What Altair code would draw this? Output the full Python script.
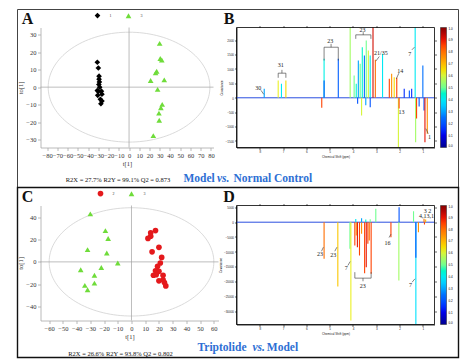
import altair as alt
import numpy as np
import pandas as pd

SERIF = "Liberation Serif"
SANS = "Liberation Sans"
GREEN = "#6fdc3a"
RED = "#e4191c"
TITLE_BLUE = "#2e6fd4"

# ---------------- Panel A (Model vs Normal Control, OPLS-DA scores) ----------------
a_g1_x = [-31, -30, -29.3, -29.3, -29, -28.7, -31, -27, -26.5, -30.6, -28, -26.5, -27.5, -29.5, -30]
a_g1_y = [14.3, 11, 6.3, 4.6, 3, 0, -1.9, -2.3, -4, -4.7, -7, -8, -9.5, 1.5, -2.5]
a_g3_x = [29.9, 30.5, 32, 27, 25.9, 21.1, 34.4, 27.9, 32.4, 31.1, 29.2, 29.5, 23.7]
a_g3_y = [25.1, 16.4, 15.6, 9.1, 8.2, 3.8, 4.2, -1.3, -9.9, -11.8, -14.9, -19, -27.8]
a_ticks_x = list(range(-80, 81, 10))
a_ticks_y = [-30, -20, -10, 0, 10, 20, 30]
A_RX, A_RY = 79.0, 31.5
a_stats = "R2X = 27.7% R2Y = 99.1% Q2 = 0.873"

# ---------------- Panel C (Triptolide vs Model) ----------------
c_g2_x = [14, 14, 17.5, 12, 20, 15, 22, 21, 19, 17.5, 20, 16, 18, 23, 20, 23, 24, 25]
c_g2_y = [26, 23, 28, 21, 13, 9, 4, -1, -4, -8, -8.5, -12, -11.5, -12, -17, -16, -18.5, -21.5]
c_g3_x = [-30, -19, -17, -32, -18, -10, -22, -37, -27, -34, -27, -32]
c_g3_y = [43, 28, 21, 11, 8, -1, -5, -7, -12, -21, -19, -25]
c_ticks_x = list(range(-60, 61, 10))
c_ticks_y = [-40, -20, 0, 20, 40]
C_RX, C_RY = 60.0, 48.5
c_stats = "R2X = 26.6% R2Y = 93.8% Q2 = 0.802"

# ---------------- Panel B (loading plot, Model vs Normal Control) ----------------
b_ppm = [7.81, 7.21, 7.07, 6.88, 5.34, 5.24, 5.24, 4.63, 4.12, 3.95, 3.86, 3.77, 3.69, 3.60,
         3.51, 3.43, 3.34, 3.26, 3.14, 3.04, 3.80, 3.63, 3.45, 3.26, 2.73, 2.44, 2.34, 2.23,
         2.12, 2.05, 2.02, 1.80, 1.58, 1.48, 1.33, 1.31, 1.27, 1.16, 1.00, 0.95, 0.91, 0.81]
b_val = [312, 600, 486, 600, -347, 1353, 600, 1353, 2600, 774, 486, 1294, 1178, 1756,
         1467, 1988, 1641, 1467, 2600, 1318, -208, -614, -260, -324, 1527, 659, 833, 717,
         694, -1714, -371, 312, 254, 312, 2600, -1540, -720, -300, 1121, -440, -1540, -1249]
b_corr = [0.3, 0.62, 0.4, 0.65, 0.85, 0.42, 0.2, 0.22, 0.55, 0.5, 0.45, 0.3, 0.5, 0.45,
          0.25, 0.5, 0.6, 0.4, 0.92, 0.8, 0.2, 0.6, 0.3, 0.2, 0.4, 0.85, 0.75, 0.65,
          0.85, 0.6, 0.85, 0.15, 0.2, 0.15, 0.4, 0.55, 0.85, 0.2, 0.25, 0.2, 0.9, 0.75]
b_lab_text = ["30", "31", "23", "23", "21/35", "7", "14", "13", "1"]
b_lab_ppm = [8.07, 7.10, 4.98, 3.59, 2.80, 1.56, 1.97, 1.92, 0.71]
b_lab_val = [333, 1155, 1964, 2360, 1561, 1527, 947, -500, -1367]
b_seg_x1 = [7.21, 7.21, 6.88, 7.05, 5.24, 5.24, 4.63, 4.94, 3.88, 3.88, 3.23, 3.56, 7.95, 2.87, 1.47, 2.03, 0.77]
b_seg_y1 = [855, 855, 855, 855, 1756, 1756, 1756, 1756, 2186, 2186, 2186, 2186, 260, 1433, 1665, 854, -1249]
b_seg_x2 = [6.88, 7.21, 6.88, 7.05, 4.63, 5.24, 4.63, 4.94, 3.23, 3.88, 3.23, 3.56, 7.83, 3.02, 1.36, 2.14, 0.87]
b_seg_y2 = [855, 694, 694, 971, 1756, 1295, 1295, 1873, 2186, 2047, 2047, 2279, 120, 1272, 1758, 659, -1070]
b_ydom = [-1726, 2441]
b_yticks = [-1500, -1000, -500, 0, 500, 1000, 1500, 2000]

# ---------------- Panel D (loading plot, Triptolide vs Model) ----------------
d_ppm = [5.24, 4.65, 4.13, 4.09, 3.92, 3.86, 3.81, 3.72, 3.63, 3.50, 3.43, 3.36, 3.30, 3.22,
         3.88, 3.63, 3.45, 3.26, 3.02, 2.37, 2.03, 2.02, 1.40, 1.30, 1.30, 1.19, 0.95, 0.93, 0.88]
d_val = [-12370, -21720, -9000, -33200, -7870, -4480, -8430, -11240, -3930, -17230, -15200,
         -7310, -6180, -17450, 1100, 1300, 900, 1000, 4520, -5070, -19700, 5070, 3715,
         -34900, -12000, -3380, 1200, -800, 900]
d_corr = [0.8, 0.68, 0.5, 0.62, 0.85, 0.75, 0.9, 0.85, 0.75, 0.85, 0.9, 0.85, 0.8, 0.85,
          0.4, 0.3, 0.45, 0.5, 0.5, 0.85, 0.55, 0.2, 0.5, 0.38, 0.2, 0.75, 0.8, 0.85, 0.7]
d_lab_text = ["23", "23", "7", "23", "16", "7", "3  2", "4,13,1"]
d_lab_ppm = [5.42, 4.85, 4.29, 3.58, 2.52, 1.53, 0.80, 0.84]
d_lab_val = [-10680, -11010, -15540, -21720, -6960, -21150, 3716, 2027]
d_seg_x1 = [3.92, 3.92, 3.22, 3.57, 5.35, 4.78, 4.22, 2.45, 1.46]
d_seg_y1 = [-18900, -18900, -18900, -18900, -9800, -9800, -14640, -5180, -20260]
d_seg_x2 = [3.22, 3.92, 3.22, 3.57, 5.27, 4.69, 4.12, 2.37, 1.34]
d_seg_y2 = [-18900, -16880, -16880, -19960, -8450, -8450, -13290, -4050, -19130]
d_ydom = [-34560, 5640]
d_yticks = [-30000, -25000, -20000, -15000, -10000, -5000, 0, 5000]

NMR_XTICKS = [1, 2, 3, 4, 5, 6, 7, 8]
JET = ["#00008f", "#0000ff", "#0070ff", "#00e0ff", "#70ff90", "#f0f020", "#ff9000", "#ff1a00", "#850000"]
JET_DOM = [0, 0.125, 0.25, 0.375, 0.5, 0.625, 0.75, 0.875, 1]
CBAR_VALUES = [0, 0.1, 0.2, 0.3, 0.4, 0.5, 0.6, 0.7, 0.8, 0.9, 1]

one = pd.DataFrame({"k": [0]})

AX = dict(grid=False, domainColor="#a8a8a8", domainWidth=0.8, tickColor="#a8a8a8", tickSize=3,
          tickWidth=0.8, labelFont=SERIF, labelFontSize=6.5, labelColor="#333", labelPadding=1.5,
          titleFont=SERIF, titleFontSize=6.5, titleFontWeight="normal", titleColor="#333",
          titlePadding=2, labelFlush=False, labelOverlap=False)
NAX = dict(grid=False, domainColor="#000", domainWidth=0.8, tickColor="#000", tickSize=2,
           tickWidth=0.6, labelFont=SANS, labelFontSize=3, labelColor="#222", labelPadding=1,
           titleFont=SANS, titleFontSize=3, titleFontWeight="normal", titleColor="#222",
           titlePadding=1.5, labelFlush=False, labelOverlap=False)
FRAME_AX = dict(grid=False, domain=False, labels=False, title=None, tickColor="#000",
                tickSize=2, tickWidth=0.6)


def text(s, x, y, size, color="#111", weight="normal", style="normal", align="center", baseline="alphabetic"):
    return alt.Chart(one).mark_text(font=SERIF, fontSize=size, color=color, fontWeight=weight,
                                    fontStyle=style, align=align, baseline=baseline).encode(
        x=alt.value(x), y=alt.value(y), text=alt.value(s))


def frame(x, x2, y, y2, width, color):
    return alt.Chart(one).mark_rect(fillOpacity=0, stroke=color, strokeWidth=width).encode(
        x=alt.value(x), x2=alt.value(x2), y=alt.value(y), y2=alt.value(y2))


def pca_panel(gx, gy, names, colors, shapes, xdom, ydom, xt, yt, rx, ry, leg_x):
    xs = alt.Scale(domain=xdom, nice=False, zero=False)
    ys = alt.Scale(domain=ydom, nice=False, zero=False)
    xax = alt.Axis(values=xt, title="t[1]", **AX)
    yax = alt.Axis(values=yt, title="to[1]", **AX)
    X = alt.X("x:Q", scale=xs, axis=xax)
    Y = alt.Y("y:Q", scale=ys, axis=yax)
    tt = np.linspace(0, 2 * np.pi, 145)
    ell = pd.DataFrame({"x": rx * np.cos(tt), "y": ry * np.sin(tt), "i": np.arange(145)})
    ell_l = alt.Chart(ell).mark_line(color="#d0d0d0", strokeWidth=0.8).encode(X, Y, order="i:Q")
    hz = alt.Chart(one).mark_rule(color="#a0a0a0", strokeWidth=0.7).encode(
        y=alt.YDatum(0, scale=ys, axis=yax))
    vt = alt.Chart(one).mark_rule(color="#a0a0a0", strokeWidth=0.7).encode(
        x=alt.XDatum(0, scale=xs, axis=xax))
    rows = []
    for xs_, ys_, n in zip(gx, gy, names):
        rows += [{"x": a, "y": b, "g": n} for a, b in zip(xs_, ys_)]
    df = pd.DataFrame(rows)
    leg = alt.Legend(orient="none", legendX=leg_x, legendY=-15, direction="horizontal", title=None,
                     labelFont=SERIF, labelFontSize=4, labelColor="#333", symbolSize=32,
                     symbolStrokeWidth=0, labelOffset=9, columnPadding=14, padding=0)
    pts = alt.Chart(df).mark_point(filled=True, size=32, opacity=1).encode(
        X, Y,
        color=alt.Color("g:N", scale=alt.Scale(domain=names, range=colors), legend=leg),
        shape=alt.Shape("g:N", scale=alt.Scale(domain=names, range=shapes), legend=leg))
    return [ell_l, hz, vt, pts]


def nmr_panel(ppm, val, corr, lt, lp, lv, sx1, sy1, sx2, sy2, ydom, yticks, h, letter):
    xs = alt.Scale(domain=[0.5, 9], reverse=True, nice=False, zero=False)
    ys = alt.Scale(domain=ydom, nice=False, zero=False)
    xax = alt.Axis(values=NMR_XTICKS, format="d", title="Chemical Shift (ppm)", **NAX)
    yax = alt.Axis(values=yticks, format="d", title="Covariance", **NAX)
    top_ax = alt.Axis(orient="top", values=NMR_XTICKS, **FRAME_AX)
    right_ax = alt.Axis(orient="right", values=yticks, **FRAME_AX)
    Xn = alt.X("ppm:Q", scale=xs, axis=None)
    Yn = alt.Y("v:Q", scale=ys, axis=None)
    peaks = pd.DataFrame({"ppm": ppm, "v": val, "c": corr})
    base = alt.Chart(one).mark_rule(color="#2a4fe0", strokeWidth=1).encode(
        y=alt.YDatum(0, scale=ys, axis=None))
    cleg = alt.Legend(orient="right", offset=3, padding=0, title=None, gradientLength=h,
                      gradientThickness=6, values=CBAR_VALUES, labelFont=SANS, labelFontSize=3,
                      labelOffset=2, labelOverlap=False, gradientStrokeColor="#222",
                      gradientStrokeWidth=0.5)
    pk = alt.Chart(peaks).mark_rule(strokeWidth=1.1, clip=True).encode(
        alt.X("ppm:Q", scale=xs, axis=xax), alt.Y("v:Q", scale=ys, axis=yax), y2=alt.datum(0),
        color=alt.Color("c:Q", scale=alt.Scale(domain=JET_DOM, range=JET), legend=cleg))
    segs = pd.DataFrame({"ppm": sx1, "v": sy1, "ppm2": sx2, "v2": sy2})
    sg = alt.Chart(segs).mark_rule(color="#333", strokeWidth=0.6).encode(
        Xn, Yn, x2="ppm2:Q", y2="v2:Q")
    labs = pd.DataFrame({"ppm": lp, "v": lv, "t": lt})
    tx = alt.Chart(labs).mark_text(font=SERIF, fontSize=6, color="#222").encode(Xn, Yn, text="t:N")
    box = alt.Chart(one).mark_rect(fillOpacity=0, stroke="#000", strokeWidth=0.8).encode(
        x=alt.XDatum(9, scale=xs, axis=None), x2=alt.X2Datum(0.5),
        y=alt.YDatum(ydom[0], scale=ys, axis=None), y2=alt.Y2Datum(ydom[1]))
    ticks = alt.Chart(one).mark_point(opacity=0).encode(
        x=alt.XDatum(5, scale=xs, axis=top_ax), y=alt.YDatum(0, scale=ys, axis=right_ax))
    return alt.layer(base, pk, sg, tx, box, ticks, text(letter, -7.5, -4, 16, weight="bold")
                     ).resolve_axis(x="independent", y="independent")


A = alt.layer(
    frame(-23, 418, -18, 160, 1, "#444"),
    *pca_panel([a_g1_x, a_g3_x], [a_g1_y, a_g3_y], ["1", "3"], ["#000000", GREEN],
               ["diamond", "triangle-up"], [-86.5, 82.5], [-34.6, 34.2], a_ticks_x, a_ticks_y,
               A_RX, A_RY, 54),
    text("A", -13, -4, 16, weight="bold"),
    text(a_stats, 77.5, 152, 6.5, baseline="middle"),
    text("Model", 143, 151, 11.5, color=TITLE_BLUE, weight="bold", align="left", baseline="middle"),
    text("vs.", 176.5, 151, 11.5, color=TITLE_BLUE, weight="bold", style="italic", align="left", baseline="middle"),
    text("Normal Control", 193, 151, 11.5, color=TITLE_BLUE, weight="bold", align="left", baseline="middle"),
).properties(width=173, height=120)

B = nmr_panel(b_ppm, b_val, b_corr, b_lab_text, b_lab_ppm, b_lab_val,
              b_seg_x1, b_seg_y1, b_seg_x2, b_seg_y2, b_ydom, b_yticks, 120, "B"
              ).properties(width=198, height=120)

C = alt.layer(
    frame(-23, 418, -18, 152, 1.4, "#111"),
    *pca_panel([c_g2_x, c_g3_x], [c_g2_y, c_g3_y], ["2", "3"], [RED, GREEN],
               ["circle", "triangle-up"], [-66.3, 63.4], [-52.5, 50.5], c_ticks_x, c_ticks_y,
               C_RX, C_RY, 57),
    text("C", -13, -4, 16, weight="bold"),
    text(c_stats, 80, 148, 6.5, baseline="middle"),
    text("Triptolide", 157, 142, 11.5, color=TITLE_BLUE, weight="bold", align="left", baseline="middle"),
    text("vs.", 212, 142, 11.5, color=TITLE_BLUE, weight="bold", style="italic", align="left", baseline="middle"),
    text("Model", 226.3, 142, 11.5, color=TITLE_BLUE, weight="bold", align="left", baseline="middle"),
).properties(width=178, height=115)

D = nmr_panel(d_ppm, d_val, d_corr, d_lab_text, d_lab_ppm, d_lab_val,
              d_seg_x1, d_seg_y1, d_seg_x2, d_seg_y2, d_ydom, d_yticks, 119, "D"
              ).properties(width=198, height=119)

chart = alt.concat(
    A, B, C, D, columns=2, spacing={"row": 58, "column": 18}, bounds="flush", align="each"
).resolve_scale(
    color="independent", shape="independent"
).resolve_legend(
    color="independent", shape="independent"
).properties(
    padding={"left": 8.5, "top": 0.5, "right": 5, "bottom": 5}, background="white"
).configure_view(stroke=None)

chart.save("out.html", embed_options={"renderer": "svg", "actions": False})
